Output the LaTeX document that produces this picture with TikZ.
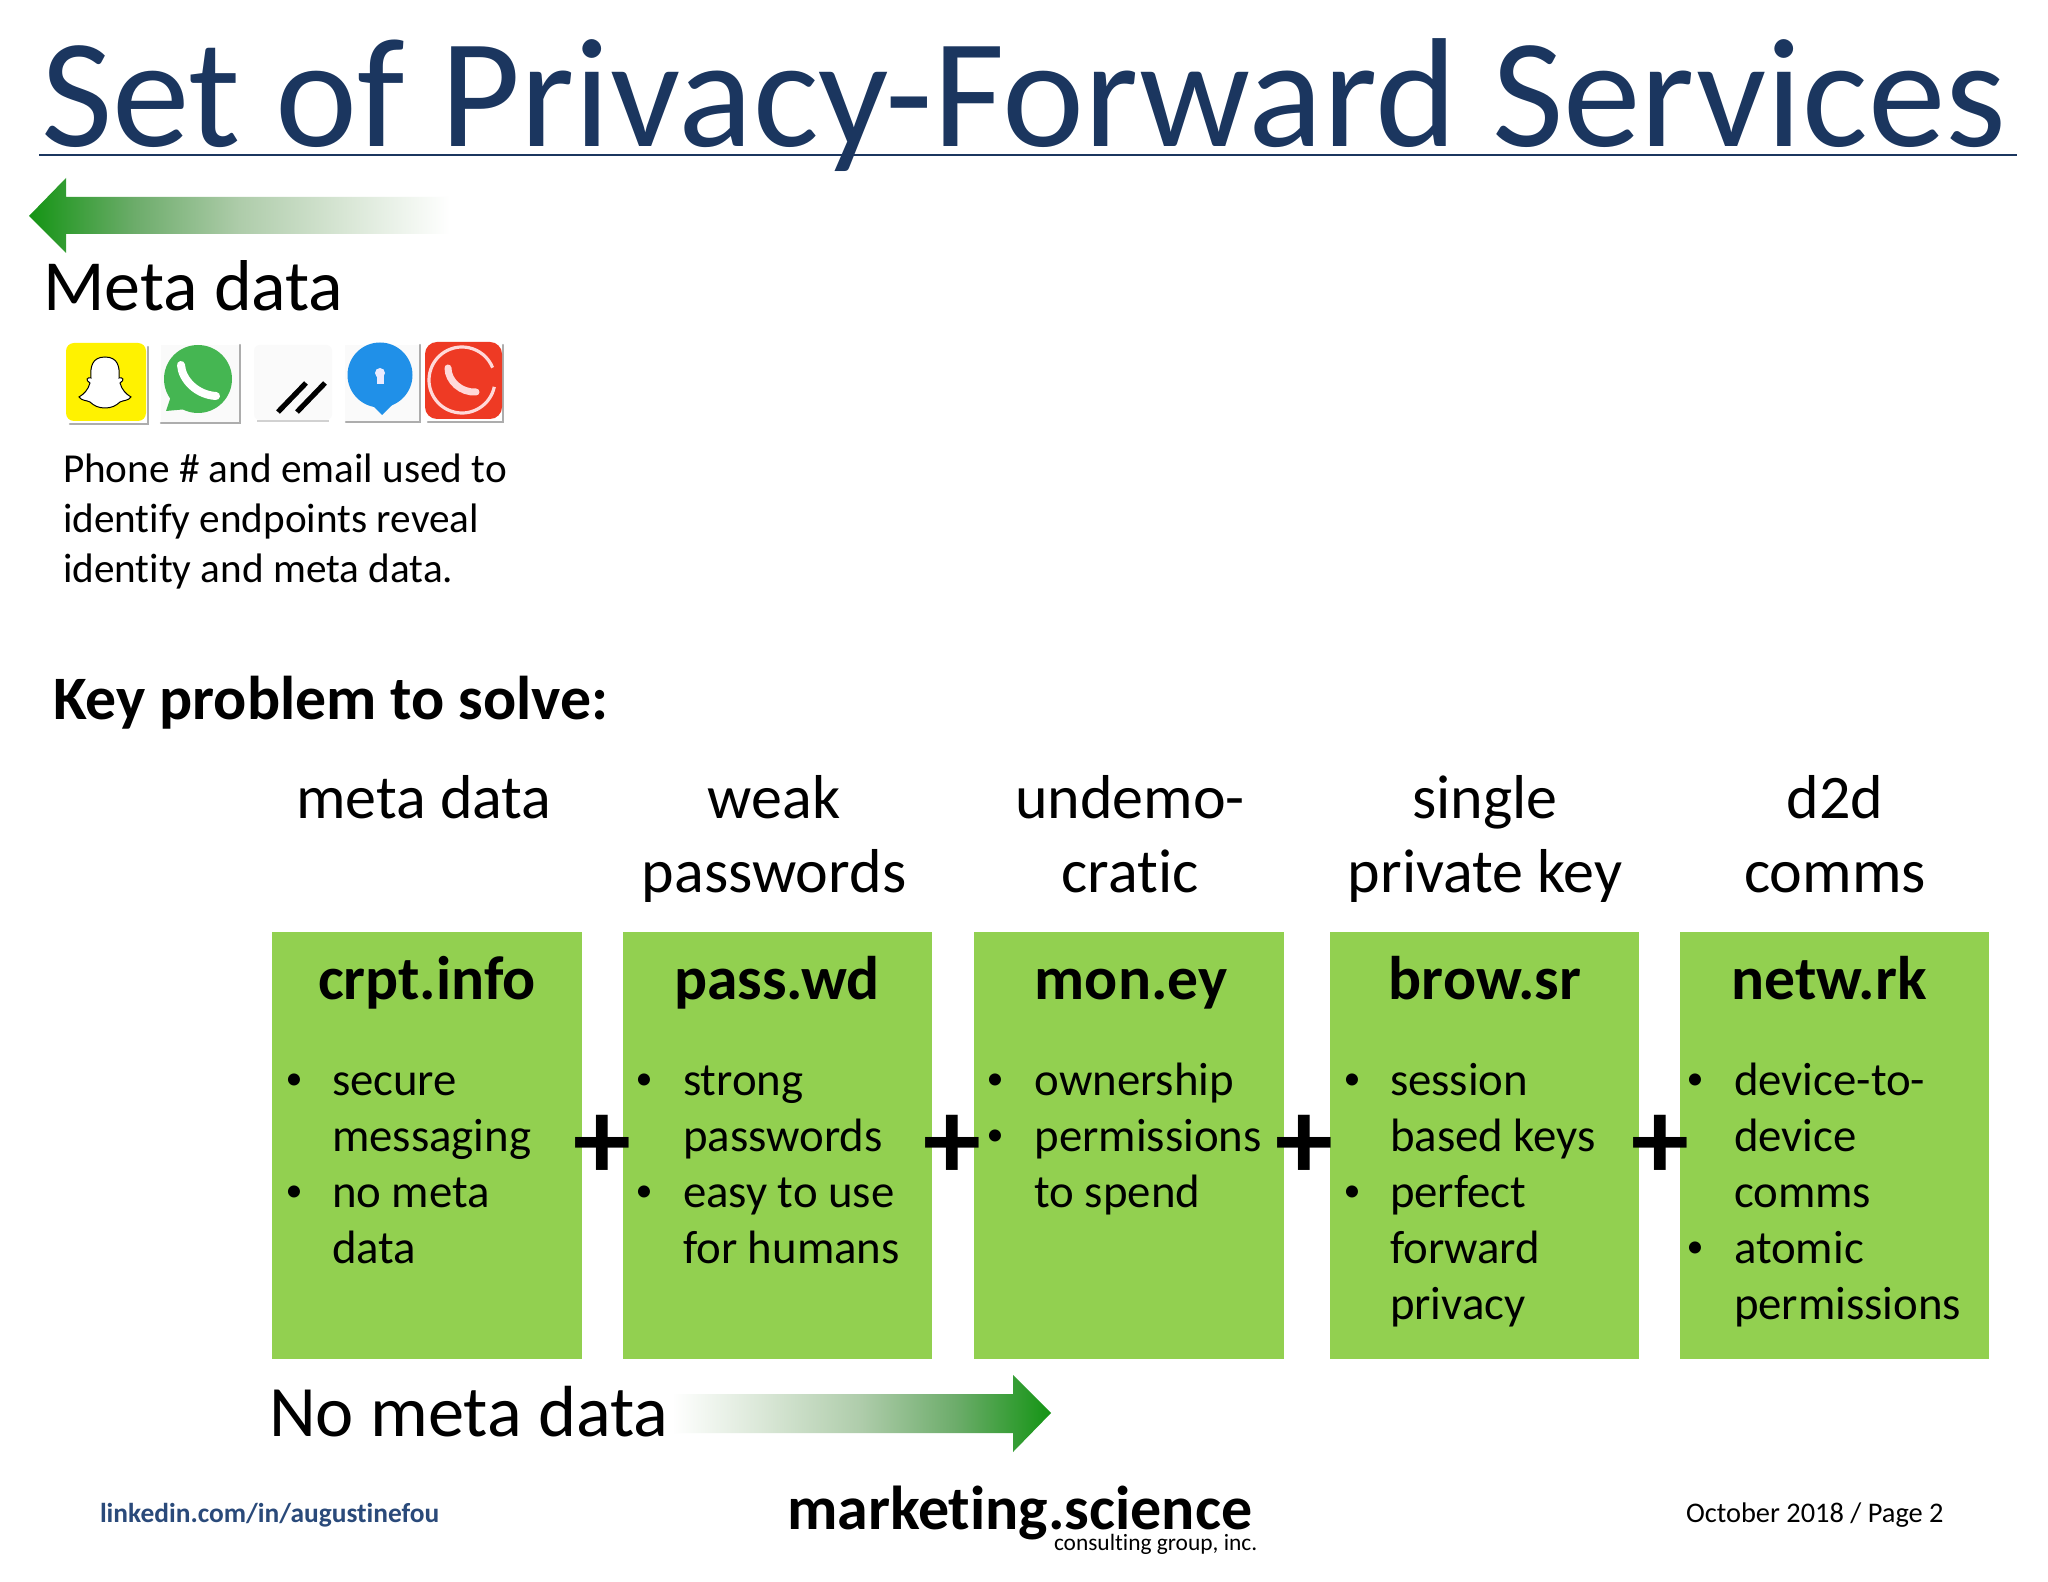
\documentclass[tikz,border=0pt]{standalone}
\usepackage{fontspec}
\setmainfont{Carlito}[Ligatures=NoCommon]
\definecolor{titleblue}{HTML}{1B365F}
\definecolor{linkblue}{HTML}{2A4A7A}
\definecolor{boxgreen}{HTML}{92D050}
\definecolor{arrowgreen}{HTML}{149414}
\definecolor{fadea}{HTML}{D8E6D5}
\definecolor{fadeb}{HTML}{AECCAA}
\definecolor{fadec}{HTML}{6CAC6A}
\definecolor{wagreen}{HTML}{45B652}
\definecolor{sigblue}{HTML}{2090E8}
\definecolor{callred}{HTML}{EE3A24}
\pgfdeclarehorizontalshading{fadegreen}{100bp}{color(0bp)=(white); color(25bp)=(white); color(37.5bp)=(fadea); color(50bp)=(fadeb); color(62.5bp)=(fadec); color(75bp)=(arrowgreen); color(100bp)=(arrowgreen)}
\tikzset{
  txt/.style={inner sep=0pt,outer sep=0pt,anchor=base west},
  ctr/.style={inner sep=0pt,outer sep=0pt,anchor=base},
  head/.style={ctr,font=\fontsize{31}{36}\selectfont},
  btitle/.style={ctr,font=\fontsize{30.8}{34}\selectfont\bfseries},
  body/.style={txt,font=\fontsize{23.4}{28}\selectfont},
  dotb/.style={ctr,font=\fontsize{17}{20}\selectfont},
  phone/.style={txt,font=\fontsize{20.6}{25}\selectfont},
  gbox/.style={fill=boxgreen,draw=none},
  plus/.style={inner sep=0pt,outer sep=0pt,anchor=center,font=\fontsize{58}{58}\selectfont\bfseries},
  iconshadow/.style={draw=black!32,line width=1.1pt,line cap=round}
}
\begin{document}
\begin{tikzpicture}[x=0.5pt,y=-0.5pt]
\useasboundingbox (0,0) rectangle (2048,1582);
\fill[white] (0,0) rectangle (2048,1582);
% title
\node[txt,text=titleblue,font=\fontsize{77.7}{90}\selectfont] (title) at (41,147) {Set of Privacy-Forward Services};
\draw[titleblue,line width=1pt] (39,155) -- (2017,155);
% top arrow
\shade[shading=fadegreen,shading angle=180] (29,216) -- (66,178) -- (66,197) -- (450,197) -- (450,234) -- (66,234) -- (66,253) -- cycle;
\node[txt,font=\fontsize{36}{40}\selectfont] (meta) at (43,311) {Meta data};
% snapchat
\draw[iconshadow] (70,424) -- (148,424) -- (148,347);
\fill[yellow,rounded corners=4pt] (66,343) rectangle (146,421);
\draw[black,fill=white,line width=0.5pt] (105,357) .. controls (92,357) and (90,367) .. (91,378) .. controls (87,377) and (85,380) .. (90,383) .. controls (88,390) and (84,394) .. (79,397) .. controls (82,401) and (86,400) .. (90,402) .. controls (94,406) and (99,408) .. (105,408) .. controls (111,408) and (116,406) .. (120,402) .. controls (124,400) and (128,401) .. (131,397) .. controls (126,394) and (122,390) .. (120,383) .. controls (125,380) and (123,377) .. (119,378) .. controls (120,367) and (118,357) .. (105,357) -- cycle;
% whatsapp
\fill[black!2] (161,345) rectangle (239,422);
\draw[iconshadow] (161,423) -- (240,423) -- (240,345);
\fill[wagreen] (166,411) -- (172,393) -- (188,409) -- cycle;
\fill[wagreen] (198,379) circle[radius=34];
\draw[white,line width=4pt,line cap=round] (181,365) .. controls (182,380) and (197,395) .. (216,396);
% slashes
\fill[black!2,rounded corners=3pt] (254,345) rectangle (332,420);
\draw[black!18,line width=0.8pt] (257,421) -- (329,421);
\draw[black,line width=2.6pt] (278,412) -- (306,383);
\draw[black,line width=2.6pt] (297,412) -- (325,383);
% blue
\fill[black!2] (345,345) rectangle (419,421);
\draw[iconshadow] (346,422) -- (420,422) -- (420,345);
\fill[sigblue] (380,375) circle[radius=32.5];
\fill[sigblue] (370,403) -- (394,403) -- (382,415) -- cycle;
\fill[white!92!blue] (380,373) circle[radius=5];
\fill[white!92!blue] (376.5,374) rectangle (383.5,384);
% red
\draw[iconshadow] (428,422) -- (503,422) -- (503,345);
\fill[callred,rounded corners=6pt] (425,342) rectangle (502,419);
\draw[white!85!red,line width=1.6pt] (462,380) ++(12:33) arc[start angle=12,end angle=338,radius=33];
\draw[white!85!red,line width=3.5pt,line cap=round] (448,368) .. controls (448,381) and (461,393) .. (476,392);
% phone text
\node[phone] (p1) at (63,483) {Phone \# and email used to};
\node[phone] (p2) at (63,533) {identify endpoints reveal};
\node[phone] (p3) at (63,582) {identity and meta data.};
% key
\node[txt,font=\fontsize{30.9}{36}\selectfont\bfseries] (key) at (53,719) {Key problem to solve:};
% headers
\node[head] (h1) at (424,818) {meta data};
\node[head] (h2a) at (774,818) {weak};
\node[head] (h2b) at (774,892) {passwords};
\node[head] (h3a) at (1130,818) {undemo-};
\node[head] (h3b) at (1130,892) {cratic};
\node[head] (h4a) at (1485,818) {single};
\node[head] (h4b) at (1485,892) {private key};
\node[head] (h5a) at (1835,818) {d2d};
\node[head] (h5b) at (1835,892) {comms};
% boxes
\fill[gbox] (272,931.5) rectangle (582,1358.5);
\fill[gbox] (623,931.5) rectangle (932,1358.5);
\fill[gbox] (974,931.5) rectangle (1284,1358.5);
\fill[gbox] (1329.5,931.5) rectangle (1639,1358.5);
\fill[gbox] (1679.5,931.5) rectangle (1989,1358.5);
\node[btitle] (t1) at (427,999) {crpt.info};
\node[btitle] (t2) at (777,999) {pass.wd};
\node[btitle] (t3) at (1131,999) {mon.ey};
\node[btitle] (t4) at (1485,999) {brow.sr};
\node[btitle] (t5) at (1829,999) {netw.rk};
% box 1
\node[dotb] (b1a) at (294,1089) {•};
\node[body] (a1) at (332,1095) {secure};
\node[body] (a2) at (332,1151) {messaging};
\node[dotb] (b1b) at (294,1201) {•};
\node[body] (a3) at (332,1207) {no meta};
\node[body] (a4) at (332,1263) {data};
% box 2
\node[dotb] (b2a) at (644,1089) {•};
\node[body] (c1) at (683,1095) {strong};
\node[body] (c2) at (683,1151) {passwords};
\node[dotb] (b2b) at (644,1201) {•};
\node[body] (c3) at (683,1207) {easy to use};
\node[body] (c4) at (683,1263) {for humans};
% box 3
\node[dotb] (b3a) at (995,1089) {•};
\node[body] (d1) at (1034.5,1095) {ownership};
\node[dotb] (b3b) at (995,1145) {•};
\node[body] (d2) at (1034.5,1151) {permissions};
\node[body] (d3) at (1034.5,1207) {to spend};
% box 4
\node[dotb] (b4a) at (1352,1089) {•};
\node[body] (e1) at (1390,1095) {session};
\node[body] (e2) at (1390,1151) {based keys};
\node[dotb] (b4b) at (1352,1201) {•};
\node[body] (e3) at (1390,1207) {perfect};
\node[body] (e4) at (1390,1263) {forward};
\node[body] (e5) at (1390,1319) {privacy};
% box 5
\node[dotb] (b5a) at (1695,1089) {•};
\node[body] (f1) at (1734,1095) {device-to-};
\node[body] (f2) at (1734,1151) {device};
\node[body] (f3) at (1734,1207) {comms};
\node[dotb] (b5b) at (1695,1257) {•};
\node[body] (f4) at (1734,1263) {atomic};
\node[body] (f5) at (1734,1319) {permissions};
% plus
\node[plus] (s1) at (602,1147) {+};
\node[plus] (s2) at (952,1147) {+};
\node[plus] (s3) at (1304,1147) {+};
\node[plus] (s4) at (1660,1147) {+};
% bottom
\node[txt,font=\fontsize{36.2}{42}\selectfont] (nm) at (269,1436) {No meta data};
\shade[shading=fadegreen] (672,1394) -- (1013,1394) -- (1013,1375) -- (1051,1413) -- (1013,1452) -- (1013,1433) -- (672,1433) -- cycle;
% footer
\node[txt,text=linkblue,font=\fontsize{13.7}{17}\selectfont\bfseries] (li) at (100,1522) {linkedin.com/in/augustinefou};
\node[txt,font=\fontsize{31}{36}\selectfont\bfseries] (ms) at (787,1529) {marketing.science};
\node[txt,font=\fontsize{11.7}{14}\selectfont] (cg) at (1054,1550) {consulting group, inc.};
\node[txt,font=\fontsize{14.2}{17}\selectfont] (dt) at (1686,1522) {October 2018 / Page 2};
\end{tikzpicture}
\end{document}
